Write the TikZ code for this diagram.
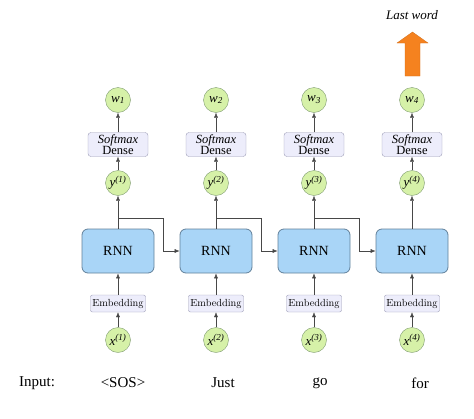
\documentclass[tikz,border=0pt]{standalone}
\usepackage{fontspec}
\setmainfont{Liberation Serif}
\newfontfamily\cmfont{Latin Modern Roman}
\usetikzlibrary{arrows.meta, positioning}
\definecolor{cellblue}{HTML}{A9D5F7}
\definecolor{celledge}{HTML}{62809A}
\definecolor{tokgreen}{HTML}{D6F1A8}
\definecolor{tokedge}{HTML}{7E9A70}
\definecolor{layerfill}{HTML}{EDEDFB}
\definecolor{layeredge}{HTML}{9C9CB6}
\definecolor{wireline}{HTML}{474747}
\definecolor{lastorange}{HTML}{F5821F}

\begin{document}
\begin{tikzpicture}[
  x=1pt, y=-1pt,
  token/.style={
    circle,
    draw=tokedge,
    fill=tokgreen,
    minimum size=25pt,
    inner sep=0pt,
    font=\fontsize{13}{13}\selectfont\itshape
  },
  cell/.style={
    rectangle,
    draw=celledge,
    fill=cellblue,
    thick,
    rounded corners=6pt,
    minimum width=72pt,
    minimum height=44pt,
    font=\fontsize{14}{14}\selectfont
  },
  dense/.style={
    rectangle,
    draw=layeredge,
    fill=layerfill,
    rounded corners=3pt,
    minimum width=60pt,
    minimum height=24pt,
    inner sep=0pt,
    align=center,
    font=\fontsize{12.5}{11}\selectfont
  },
  embed/.style={
    rectangle,
    draw=layeredge,
    fill=layerfill,
    rounded corners=2pt,
    minimum width=55pt,
    minimum height=17pt,
    inner sep=1pt,
    font=\cmfont\fontsize{10.3}{10.3}\selectfont
  },
  word/.style={
    font=\fontsize{15}{15}\selectfont
  },
  flow/.style={
    -{Latex[length=5pt,width=4pt]},
    draw=wireline
  }
]
\useasboundingbox (0,0) rectangle (474,418);

% Inputs
\node[token] (x1) at (118,340) {x\textsuperscript{(1)}};
\node[token] (x2) at (216,340) {x\textsuperscript{(2)}};
\node[token] (x3) at (314,340) {x\textsuperscript{(3)}};
\node[token] (x4) at (412,340) {x\textsuperscript{(4)}};

% Embedding layers
\node[embed] (emb1) at (118,303.5) {Embedding};
\node[embed] (emb2) at (216,303.5) {Embedding};
\node[embed] (emb3) at (314,303.5) {Embedding};
\node[embed] (emb4) at (412,303.5) {Embedding};

% RNN cells
\node[cell] (rnn1) at (118,251) {RNN};
\node[cell] (rnn2) at (216,251) {RNN};
\node[cell] (rnn3) at (314,251) {RNN};
\node[cell] (rnn4) at (412,251) {RNN};

% Outputs
\node[token] (y1) at (118,183) {y\textsuperscript{(1)}};
\node[token] (y2) at (216,183) {y\textsuperscript{(2)}};
\node[token] (y3) at (314,183) {y\textsuperscript{(3)}};
\node[token] (y4) at (412,183) {y\textsuperscript{(4)}};

% Softmax / Dense layers
\node[dense] (sm1) at (118,144.5) {\textit{Softmax}\\Dense};
\node[dense] (sm2) at (216,144.5) {\textit{Softmax}\\Dense};
\node[dense] (sm3) at (314,144.5) {\textit{Softmax}\\Dense};
\node[dense] (sm4) at (412,144.5) {\textit{Softmax}\\Dense};

% Predicted words
\node[token] (w1) at (118,100) {w\textsubscript{1}};
\node[token] (w2) at (216,100) {w\textsubscript{2}};
\node[token] (w3) at (314,100) {w\textsubscript{3}};
\node[token] (w4) at (412,100) {w\textsubscript{4}};

% Input words
\node[word] (lblin)  at (37,383)  {Input:};
\node[word] (lblsos) at (123,383) {<SOS>};
\node[word] (lbljst) at (223,383) {Just};
\node[word] (lblgo)  at (320,383) {go};
\node[word] (lblfor) at (420,383) {for};

% Last word marker
\node[font=\fontsize{13}{13}\selectfont\itshape] (lastw) at (412,15) {Last word};
\fill[lastorange, draw=lastorange!85!black, line width=0.3pt]
  (405,76) -- (420,76) -- (420,43) -- (428,43) -- (412.5,32)
  -- (397,43) -- (405,43) -- cycle;

% Vertical flow
\draw[flow] (x1) -- (emb1);
\draw[flow] (x2) -- (emb2);
\draw[flow] (x3) -- (emb3);
\draw[flow] (x4) -- (emb4);

\draw[flow] (emb1) -- (rnn1);
\draw[flow] (emb2) -- (rnn2);
\draw[flow] (emb3) -- (rnn3);
\draw[flow] (emb4) -- (rnn4);

\draw[flow] (rnn1) -- (y1);
\draw[flow] (rnn2) -- (y2);
\draw[flow] (rnn3) -- (y3);
\draw[flow] (rnn4) -- (y4);

\draw[flow] (y1) -- (sm1);
\draw[flow] (y2) -- (sm2);
\draw[flow] (y3) -- (sm3);
\draw[flow] (y4) -- (sm4);

\draw[flow] (sm1) -- (w1);
\draw[flow] (sm2) -- (w2);
\draw[flow] (sm3) -- (w3);
\draw[flow] (sm4) -- (w4);

% Hidden state passed on
\draw[flow] (rnn1.north |- 0,218) -| (163,251) -- (rnn2.west);
\draw[flow] (rnn2.north |- 0,218) -| (261,251) -- (rnn3.west);
\draw[flow] (rnn3.north |- 0,218) -| (359,251) -- (rnn4.west);

\end{tikzpicture}
\end{document}
